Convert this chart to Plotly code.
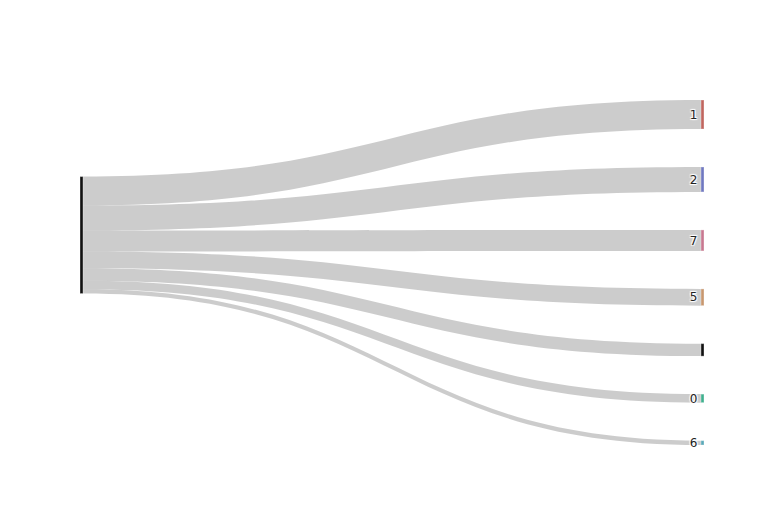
import plotly.graph_objects as go

# Data
node_labels = ["", "1", "2", "7", "5", "", "0", "6"]
node_colors = ["#111111", "#c0665f", "#7078c0", "#c87890", "#c8976f", "#111111", "#3fb08e", "#5aa8b8"]
link_source = [0, 0, 0, 0, 0, 0, 0]
link_target = [1, 2, 3, 4, 5, 6, 7]
link_values = [28.6, 24.6, 20.7, 16.5, 12.3, 8.4, 4.3]

fig = go.Figure(go.Sankey(
    node=dict(
        label=node_labels,
        color=node_colors,
        pad=38,
        thickness=3,
        line=dict(width=1, color="rgba(255,255,255,0.35)"),
    ),
    link=dict(
        source=link_source,
        target=link_target,
        value=link_values,
    ),
    textfont=dict(family="DejaVu Sans, Verdana, sans-serif", size=12, color="#222"),
))

fig.update_layout(
    width=783,
    height=525,
    margin=dict(l=72, r=87, t=92, b=88),
    paper_bgcolor="white",
)

fig.write_html("out.html")
